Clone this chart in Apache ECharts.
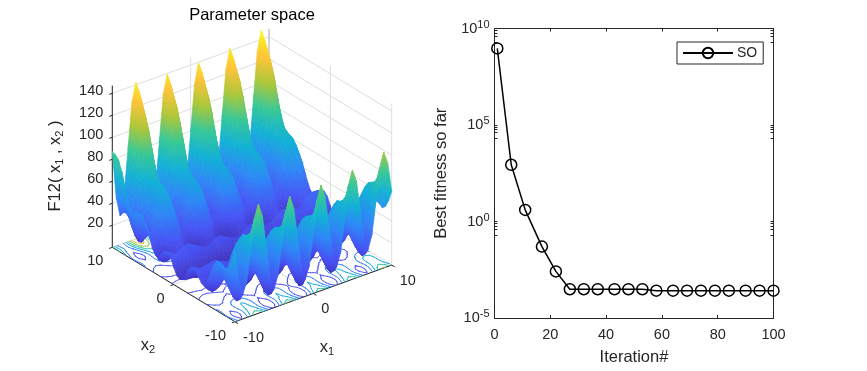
<!DOCTYPE html>
<html>
<head>
<meta charset="utf-8">
<style>html,body{margin:0;padding:0;background:#fff}#main{width:867px;height:371px}</style>
<script src="https://cdn.jsdelivr.net/npm/echarts@6/dist/echarts.min.js"></script>
</head>
<body>
<div id="main"></div>
<script>
// right panel: convergence curve
const iterations = [1, 6, 11, 17, 22, 27, 32, 37, 43, 48, 53, 58, 64, 69, 74, 79, 84, 90, 95, 100];
const bestFitness = [9.3e8, 870, 4, 0.05, 2.6e-3, 3.1e-4, 3.1e-4, 3.1e-4, 3.1e-4, 3.1e-4, 3.1e-4, 2.6e-4, 2.6e-4, 2.6e-4, 2.6e-4, 2.6e-4, 2.6e-4, 2.6e-4, 2.6e-4, 2.6e-4];

// left panel: surface heights, one row per x2 value, one column per x1 value
const x1Values = [-10, -9.5, -9, -8.5, -8, -7.5, -7, -6.5, -6, -5.5, -5, -4.5, -4, -3.5, -3, -2.5, -2, -1.5, -1, -0.5, 0, 0.5, 1, 1.5, 2, 2.5, 3, 3.5, 4, 4.5, 5, 5.5, 6, 6.5, 7, 7.5, 8, 8.5, 9, 9.5, 10];
const x2Values = x1Values.slice();
const heights = [
  [64,35,22,33,60,88,99,87,58,29,17,29,56,84,96,84,56,27,16,27,56,84,96,84,56,29,17,29,58,87,99,88,60,33,22,35,64,93,105,94,67],
  [53,27,16,25,50,74,84,73,47,22,11,21,46,71,81,70,45,20,9,20,45,70,81,71,46,21,11,22,47,73,84,74,50,25,16,27,53,79,90,81,57],
  [46,23,13,21,42,64,73,63,40,17,8,17,39,61,69,60,38,15,6,15,38,60,69,61,39,17,8,17,40,63,73,64,42,21,13,23,46,69,79,71,50],
  [43,23,14,21,40,59,67,58,38,18,9,17,36,56,63,55,36,16,8,16,36,55,63,56,36,17,9,18,38,58,67,59,40,21,14,23,43,64,73,66,47],
  [45,27,19,25,42,58,64,57,39,22,14,21,38,54,61,54,37,20,13,20,37,54,61,54,38,21,14,22,39,57,64,58,42,25,19,27,45,63,71,65,49],
  [46,31,24,29,43,57,63,56,41,26,19,25,39,54,59,53,38,24,18,24,38,53,59,54,39,25,19,26,41,56,63,57,43,29,24,31,46,62,69,64,50],
  [45,32,26,30,42,54,58,52,39,26,21,26,38,50,55,50,37,24,19,24,37,50,55,50,38,26,21,26,39,52,58,54,42,30,26,32,45,58,64,60,49],
  [39,28,23,26,36,46,50,45,34,23,18,22,32,42,46,42,31,21,16,21,31,42,46,42,32,22,18,23,34,45,50,46,36,26,23,28,39,51,56,53,43],
  [31,21,17,19,27,35,38,34,25,16,12,15,23,32,35,31,23,14,10,14,23,31,35,32,23,15,12,16,25,34,38,35,27,19,17,21,31,40,45,42,34],
  [22,14,11,13,19,25,28,24,17,9,6,8,15,22,25,22,14,7,4,7,14,22,25,22,15,8,6,9,17,24,28,25,19,13,11,14,22,30,34,32,26],
  [17,11,8,9,14,19,21,18,12,6,3,5,10,16,18,15,10,4,2,4,10,15,18,16,10,5,3,6,12,18,21,19,14,9,8,11,17,24,27,26,21],
  [17,12,10,11,14,18,19,17,12,7,5,6,10,14,16,14,10,5,4,5,10,14,16,14,10,6,5,7,12,17,19,18,14,11,10,12,17,23,25,25,21],
  [21,17,15,16,18,20,21,19,16,12,10,11,14,17,18,16,13,10,9,10,13,16,18,17,14,11,10,12,16,19,21,20,18,16,15,17,21,25,27,27,25],
  [25,22,20,20,22,23,24,22,20,17,16,16,18,20,21,19,17,15,14,15,17,19,21,20,18,16,16,17,20,22,24,23,22,20,20,22,25,28,30,30,29],
  [26,24,22,22,23,24,24,22,21,19,18,18,19,20,20,20,18,17,16,17,18,20,20,20,19,18,18,19,21,22,24,24,23,22,22,24,26,28,30,30,30],
  [23,21,20,19,20,20,19,18,17,16,15,15,16,16,16,16,15,14,14,14,15,16,16,16,16,15,15,16,17,18,19,20,20,19,20,21,23,24,26,26,27],
  [16,15,14,14,13,13,12,12,11,10,10,9,9,9,9,9,9,8,8,8,9,9,9,9,9,9,10,10,11,12,12,13,13,14,14,15,16,18,19,20,20],
  [10,9,9,8,7,7,6,5,5,4,4,4,3,3,3,3,3,2,2,2,3,3,3,3,3,4,4,4,5,5,6,7,7,8,9,9,10,11,12,13,14],
  [8,7,6,6,5,4,4,3,2,2,2,1,1,1,0,0,0,0,0,0,0,0,0,1,1,1,2,2,2,3,4,4,5,6,6,7,8,9,10,11,12],
  [10,9,9,8,7,7,6,5,5,4,4,4,3,3,3,3,3,2,2,2,3,3,3,3,3,4,4,4,5,5,6,7,7,8,9,9,10,11,12,13,14],
  [16,15,14,14,13,13,12,12,11,10,10,9,9,9,9,9,9,8,8,8,9,9,9,9,9,9,10,10,11,12,12,13,13,14,14,15,16,18,19,20,20],
  [23,21,20,19,20,20,19,18,17,16,15,15,16,16,16,16,15,14,14,14,15,16,16,16,16,15,15,16,17,18,19,20,20,19,20,21,23,24,26,26,27],
  [26,24,22,22,23,24,24,22,21,19,18,18,19,20,20,20,18,17,16,17,18,20,20,20,19,18,18,19,21,22,24,24,23,22,22,24,26,28,30,30,30],
  [25,22,20,20,22,23,24,22,20,17,16,16,18,20,21,19,17,15,14,15,17,19,21,20,18,16,16,17,20,22,24,23,22,20,20,22,25,28,30,30,29],
  [21,17,15,16,18,20,21,19,16,12,10,11,14,17,18,16,13,10,9,10,13,16,18,17,14,11,10,12,16,19,21,20,18,16,15,17,21,25,27,27,25],
  [17,12,10,11,14,18,19,17,12,7,5,6,10,14,16,14,10,5,4,5,10,14,16,14,10,6,5,7,12,17,19,18,14,11,10,12,17,23,25,25,21],
  [17,11,8,9,14,19,21,18,12,6,3,5,10,16,18,15,10,4,2,4,10,15,18,16,10,5,3,6,12,18,21,19,14,9,8,11,17,24,27,26,21],
  [22,14,11,13,19,25,28,24,17,9,6,8,15,22,25,22,14,7,4,7,14,22,25,22,15,8,6,9,17,24,28,25,19,13,11,14,22,30,34,32,26],
  [31,21,17,19,27,35,38,34,25,16,12,15,23,32,35,31,23,14,10,14,23,31,35,32,23,15,12,16,25,34,38,35,27,19,17,21,31,40,45,42,34],
  [39,28,23,26,36,46,50,45,34,23,18,22,32,42,46,42,31,21,16,21,31,42,46,42,32,22,18,23,34,45,50,46,36,26,23,28,39,51,56,53,43],
  [45,32,26,30,42,54,58,52,39,26,21,26,38,50,55,50,37,24,19,24,37,50,55,50,38,26,21,26,39,52,58,54,42,30,26,32,45,58,64,60,49],
  [46,31,24,29,43,57,63,56,41,26,19,25,39,54,59,53,38,24,18,24,38,53,59,54,39,25,19,26,41,56,63,57,43,29,24,31,46,62,69,64,50],
  [45,27,19,25,42,58,64,57,39,22,14,21,38,54,61,54,37,20,13,20,37,54,61,54,38,21,14,22,39,57,64,58,42,25,19,27,45,63,71,65,49],
  [43,23,14,21,40,59,67,58,38,18,9,17,36,56,63,55,36,16,8,16,36,55,63,56,36,17,9,18,38,58,67,59,40,21,14,23,43,64,73,66,47],
  [46,23,13,21,42,64,73,63,40,17,8,17,39,61,69,60,38,15,6,15,38,60,69,61,39,17,8,17,40,63,73,64,42,21,13,23,46,69,79,71,50],
  [53,27,16,25,50,74,84,73,47,22,11,21,46,71,81,70,45,20,9,20,45,70,81,71,46,21,11,22,47,73,84,74,50,25,16,27,53,79,90,81,57],
  [64,35,22,33,60,88,99,87,58,29,17,29,56,84,96,84,56,27,16,27,56,84,96,84,56,29,17,29,58,87,99,88,60,33,22,35,64,93,105,94,67],
  [75,42,29,41,71,102,114,101,69,37,24,36,67,99,111,98,67,35,22,35,67,98,111,99,67,36,24,37,69,101,114,102,71,41,29,42,75,107,121,109,78],
  [83,47,32,45,79,114,127,112,77,42,27,41,76,110,124,110,75,40,26,40,75,110,124,110,76,41,27,42,77,112,127,114,79,45,32,47,83,118,134,120,87],
  [86,47,31,46,83,121,136,120,81,42,26,41,79,117,133,117,78,40,24,40,78,117,133,117,79,41,26,42,81,120,136,121,83,46,31,47,86,125,142,127,90],
  [87,44,26,43,84,125,142,124,82,39,21,38,80,122,139,121,79,37,20,37,79,121,139,122,80,38,21,39,82,124,142,125,84,43,26,44,87,130,148,132,91]
];
const x1Ticks = [-10, 0, 10];
const x2Ticks = [-10, 0, 10];
const zTicks = [20, 40, 60, 80, 100, 120, 140];
const contourLevels = [20, 40, 60, 80, 100, 120, 140];
const zLimit = 147;

// parula
const colormap = [[62, 38, 168], [72, 82, 244], [46, 135, 247], [18, 177, 214], [55, 200, 151], [171, 199, 57], [254, 195, 56], [249, 251, 21]];
const zColorMax = 148;

const FONT = '"Liberation Sans", Arial, sans-serif';
const INK = '#262626';
const GRID = '#dedede';

function colorAt(z) {
  const t = Math.min(Math.max(z / zColorMax, 0), 1) * (colormap.length - 1);
  const k = Math.min(Math.floor(t), colormap.length - 2);
  const f = t - k;
  const c = [0, 1, 2].map(n => Math.round(colormap[k][n] + (colormap[k + 1][n] - colormap[k][n]) * f));
  return 'rgb(' + c.join(',') + ')';
}

// axes box of the 3D plot as seen on screen
function project(x1, x2, z) {
  return [252 + 7.835 * x1 - 6.135 * x2, 256.2 - 2.835 * x1 - 3.72 * x2 - 1.1 * z];
}

function gradientFill(a, b, c) {
  const lo = Math.min(a[2], b[2], c[2]);
  const hi = Math.max(a[2], b[2], c[2]);
  const d = (b[0] - a[0]) * (c[1] - a[1]) - (c[0] - a[0]) * (b[1] - a[1]);
  if (hi - lo < 0.5 || Math.abs(d) < 0.05) return colorAt((a[2] + b[2] + c[2]) / 3);
  const gx = ((b[2] - a[2]) * (c[1] - a[1]) - (c[2] - a[2]) * (b[1] - a[1])) / d;
  const gy = ((c[2] - a[2]) * (b[0] - a[0]) - (b[2] - a[2]) * (c[0] - a[0])) / d;
  const g2 = gx * gx + gy * gy;
  const v = [a, b, c].find(p => p[2] === lo);
  const stops = [{ offset: 0, color: colorAt(lo) }];
  for (let k = 1; k < colormap.length - 1; k++) {
    const zk = k / (colormap.length - 1) * zColorMax;
    if (zk > lo && zk < hi) stops.push({ offset: (zk - lo) / (hi - lo), color: colorAt(zk) });
  }
  stops.push({ offset: 1, color: colorAt(hi) });
  const span = (hi - lo) / g2;
  return new echarts.graphic.LinearGradient(v[0], v[1], v[0] + gx * span, v[1] + gy * span, stops, true);
}

function triangle(api, a, b, c) {
  const pts = [a, b, c].map(p => {
    const xy = api.coord(project(p[0], p[1], p[2]));
    return [xy[0], xy[1], p[2]];
  });
  const fill = gradientFill(pts[0], pts[1], pts[2]);
  return {
    type: 'polygon',
    shape: { points: pts.map(p => [p[0], p[1]]) },
    style: { fill: fill, stroke: fill, lineWidth: 0.7, lineJoin: 'round' }
  };
}

// far corner first so nearer cells paint over it
const cells = [];
for (let r = x2Values.length - 2; r >= 0; r--) {
  for (let c = x1Values.length - 2; c >= 0; c--) cells.push([c, r]);
}

function renderCell(params, api) {
  const c = api.value(0);
  const r = api.value(1);
  const p00 = [x1Values[c], x2Values[r], heights[r][c]];
  const p10 = [x1Values[c + 1], x2Values[r], heights[r][c + 1]];
  const p01 = [x1Values[c], x2Values[r + 1], heights[r + 1][c]];
  const p11 = [x1Values[c + 1], x2Values[r + 1], heights[r + 1][c + 1]];
  return { type: 'group', children: [triangle(api, p11, p10, p01), triangle(api, p00, p10, p01)] };
}

function crossing(a, b, level) {
  const f = (level - a[2]) / (b[2] - a[2]);
  return [a[0] + (b[0] - a[0]) * f, a[1] + (b[1] - a[1]) * f];
}

function triContour(tri, level, out) {
  const hit = [];
  for (let n = 0; n < 3; n++) {
    const a = tri[n];
    const b = tri[(n + 1) % 3];
    if ((a[2] >= level) !== (b[2] >= level)) hit.push(crossing(a, b, level));
  }
  if (hit.length === 2) out.push(hit);
}

function contourSegments(level) {
  const out = [];
  for (let r = 0; r < x2Values.length - 1; r++) {
    for (let c = 0; c < x1Values.length - 1; c++) {
      const p00 = [x1Values[c], x2Values[r], heights[r][c]];
      const p10 = [x1Values[c + 1], x2Values[r], heights[r][c + 1]];
      const p01 = [x1Values[c], x2Values[r + 1], heights[r + 1][c]];
      const p11 = [x1Values[c + 1], x2Values[r + 1], heights[r + 1][c + 1]];
      triContour([p00, p10, p01], level, out);
      triContour([p11, p10, p01], level, out);
    }
  }
  return out;
}

function renderContour(params, api) {
  const level = api.value(0);
  const color = colorAt(level);
  return {
    type: 'group',
    children: contourSegments(level).map(s => {
      const a = api.coord(project(s[0][0], s[0][1], 0));
      const b = api.coord(project(s[1][0], s[1][1], 0));
      return {
        type: 'line',
        shape: { x1: a[0], y1: a[1], x2: b[0], y2: b[1] },
        style: { stroke: color, lineWidth: 0.9, lineCap: 'round' }
      };
    })
  };
}

function seg(api, p, q, color, width) {
  const a = api.coord(project(p[0], p[1], p[2]));
  const b = api.coord(project(q[0], q[1], q[2]));
  return { type: 'line', shape: { x1: a[0], y1: a[1], x2: b[0], y2: b[1] }, style: { stroke: color, lineWidth: width } };
}

function label(api, p, dx, dy, text, align) {
  const a = api.coord(project(p[0], p[1], p[2]));
  return {
    type: 'text', x: a[0] + dx, y: a[1] + dy,
    style: { text: text, fill: INK, font: '14.5px ' + FONT, textAlign: align, textVerticalAlign: 'middle' }
  };
}

function renderFrame(params, api) {
  const kids = [];
  // walls and floor
  zTicks.forEach(z => {
    kids.push(seg(api, [-10, 10, z], [10, 10, z], GRID, 1));
    kids.push(seg(api, [10, 10, z], [10, -10, z], GRID, 1));
  });
  x1Ticks.forEach(x => {
    kids.push(seg(api, [x, 10, 0], [x, 10, zLimit], x === 10 ? '#c4c4c4' : GRID, 1));
    kids.push(seg(api, [x, -10, 0], [x, 10, 0], GRID, 1));
  });
  x2Ticks.forEach(y => {
    kids.push(seg(api, [10, y, 0], [10, y, zLimit], y === 10 ? '#c4c4c4' : GRID, 1));
    kids.push(seg(api, [-10, y, 0], [10, y, 0], GRID, 1));
  });
  // axis lines
  kids.push(seg(api, [-10, 10, 0], [-10, 10, zLimit], INK, 1));
  kids.push(seg(api, [-10, 10, 0], [-10, -10, 0], INK, 1));
  kids.push(seg(api, [-10, -10, 0], [10, -10, 0], INK, 1));
  // ticks and their labels
  zTicks.forEach(z => {
    const a = api.coord(project(-10, 10, z));
    kids.push({ type: 'line', shape: { x1: a[0] - 3, y1: a[1] + 1, x2: a[0], y2: a[1] }, style: { stroke: INK, lineWidth: 1 } });
    kids.push(label(api, [-10, 10, z], -9, -2.5, String(z), 'right'));
  });
  x1Ticks.forEach(x => {
    kids.push(seg(api, [x, -10, 0], [x, -10.5, 0], INK, 1));
    kids.push(label(api, [x, -10, 0], 8, 16, String(x), 'left'));
  });
  x2Ticks.forEach(y => {
    kids.push(seg(api, [-10, y, 0], [-10.4, y, 0], INK, 1));
    kids.push(label(api, [-10, y, 0], -9, 14, String(y), 'right'));
  });
  return { type: 'group', children: kids };
}

function powerLabel(value) {
  return '{b|10}{s|' + Math.round(Math.log10(value)) + '}';
}

const logAxis = {
  type: 'log', logBase: 10, min: 1e-5, max: 1e10, interval: 5, gridIndex: 0,
  axisLine: { show: true, onZero: false, lineStyle: { color: INK, width: 1 } },
  axisTick: { show: true, inside: true, length: 3, lineStyle: { color: INK } },
  minorTick: { show: true, splitNumber: 5, length: 3, lineStyle: { color: INK } },
  splitLine: { show: false }
};
const iterAxis = {
  type: 'value', min: 0, max: 100, interval: 20, gridIndex: 0,
  axisLine: { show: true, onZero: false, lineStyle: { color: INK, width: 1 } },
  axisTick: { show: true, inside: true, length: 3, lineStyle: { color: INK } },
  splitLine: { show: false }
};
const sub = { fontSize: 11, fontFamily: FONT, fill: INK, padding: [9, 0, 0, 0] };
const labelFont = { fontSize: 16.5, fontFamily: FONT, fill: INK };

const chart = echarts.init(document.getElementById('main'), null, { renderer: 'canvas' });
chart.setOption({
  animation: false,
  backgroundColor: '#fff',
  grid: [
    { left: 494.5, top: 28.5, width: 279, height: 292.5 },
    { left: 0, top: 0, width: 867, height: 371 }
  ],
  xAxis: [
    Object.assign({}, iterAxis, {
      position: 'bottom',
      name: 'Iteration#', nameLocation: 'middle', nameGap: 31,
      nameTextStyle: { fontSize: 16.5, fontFamily: FONT, color: INK },
      axisLabel: { show: true, margin: 9, fontSize: 14.5, fontFamily: FONT, color: INK }
    }),
    Object.assign({}, iterAxis, { position: 'top', axisLabel: { show: false } }),
    { type: 'value', gridIndex: 1, min: 0, max: 867, show: false }
  ],
  yAxis: [
    Object.assign({}, logAxis, {
      position: 'left',
      name: 'Best fitness so far', nameLocation: 'middle', nameGap: 45,
      nameTextStyle: { fontSize: 16.5, fontFamily: FONT, color: INK },
      axisLabel: {
        show: true, margin: 5, formatter: powerLabel,
        rich: {
          b: { fontSize: 14.5, fontFamily: FONT, color: INK },
          s: { fontSize: 11, fontFamily: FONT, color: INK, padding: [0, 0, 8, 0] }
        }
      }
    }),
    Object.assign({}, logAxis, { position: 'right', axisLabel: { show: false } }),
    { type: 'value', gridIndex: 1, min: 0, max: 371, inverse: true, show: false }
  ],
  legend: {
    show: true, left: 677, top: 42, padding: [4, 6, 4, 5],
    borderColor: INK, borderWidth: 1, backgroundColor: '#fff',
    itemWidth: 50, itemHeight: 13, itemGap: 0,
    textStyle: { fontSize: 14, fontFamily: FONT, color: INK, padding: [0, 0, 0, -1] },
    data: ['SO']
  },
  graphic: [
    { type: 'text', x: 252, y: 15, style: { text: 'Parameter space', fill: '#000', font: '16.5px ' + FONT, textAlign: 'center', textVerticalAlign: 'middle' } },
    { type: 'text', x: 55, y: 166, rotation: Math.PI / 2, style: { text: '{a|F12( x}{s|1}{a| , x}{s|2}{a| )}', rich: { a: labelFont, s: sub }, textAlign: 'center', textVerticalAlign: 'middle' } },
    { type: 'text', x: 327, y: 347, style: { text: '{a|x}{s|1}', rich: { a: labelFont, s: sub }, textAlign: 'center', textVerticalAlign: 'middle' } },
    { type: 'text', x: 148, y: 345, style: { text: '{a|x}{s|2}', rich: { a: labelFont, s: sub }, textAlign: 'center', textVerticalAlign: 'middle' } }
  ],
  series: [
    { type: 'custom', name: 'frame', xAxisIndex: 2, yAxisIndex: 2, silent: true, z: 1, data: [[0]], renderItem: renderFrame },
    { type: 'custom', name: 'contour', xAxisIndex: 2, yAxisIndex: 2, silent: true, z: 2, data: contourLevels.map(l => [l]), renderItem: renderContour },
    { type: 'custom', name: 'surface', xAxisIndex: 2, yAxisIndex: 2, silent: true, z: 3, progressive: 0, data: cells, renderItem: renderCell },
    {
      type: 'line', name: 'SO', xAxisIndex: 0, yAxisIndex: 0, z: 4,
      data: iterations.map((it, n) => [it, bestFitness[n]]),
      showAllSymbol: true, symbol: 'circle', symbolSize: 11,
      lineStyle: { color: '#000', width: 1.5 },
      itemStyle: { color: 'rgba(255,255,255,0)', borderColor: '#000', borderWidth: 1.5 }
    }
  ]
});
</script>
</body>
</html>
